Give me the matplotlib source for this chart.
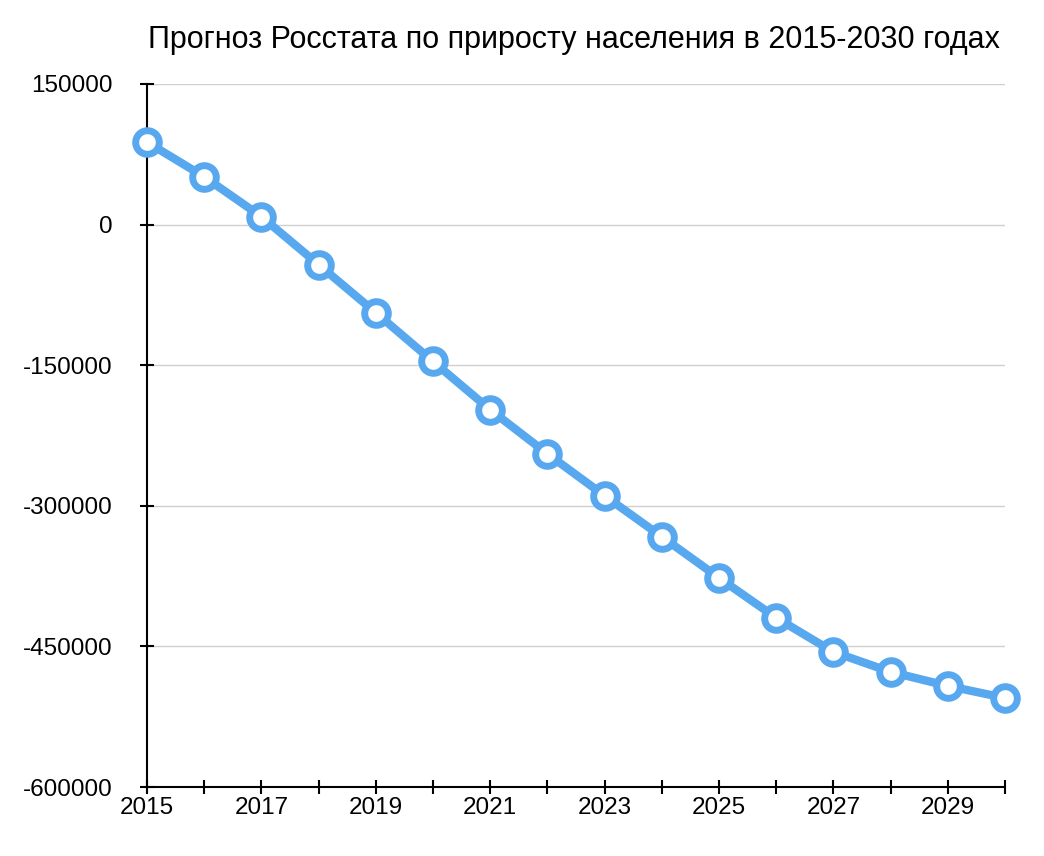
import matplotlib
matplotlib.use("Agg")
import matplotlib.pyplot as plt

plt.rcParams["font.family"] = "Liberation Sans"

years = list(range(2015, 2031))
growth = [88000, 51000, 8500, -42700, -94000, -146000, -197500, -244500,
          -289300, -333000, -376900, -419500, -455900, -477200, -492200, -505000]
year_labels = [str(y) if y % 2 == 1 else "" for y in years]
y_ticks = [150000, 0, -150000, -300000, -450000, -600000]

fig = plt.figure(figsize=(10.44, 8.56), dpi=100)
ax = fig.add_axes([147 / 1044, 69 / 856, 858 / 1044, 703 / 856])

ax.plot(years, growth, color="#58a8f0", linewidth=6, marker="o", markersize=17,
        markerfacecolor="white", markeredgecolor="#58a8f0", markeredgewidth=5,
        clip_on=False, zorder=3)

ax.set_xlim(2015, 2030)
ax.set_ylim(-600000, 150000)
ax.set_xticks(years)
ax.set_xticklabels(year_labels)
ax.set_yticks(y_ticks)
ax.set_yticklabels([str(v) for v in y_ticks])
ax.tick_params(axis="both", labelsize=17.5, width=1.5, length=10, direction="inout")
ax.tick_params(axis="y", pad=20)
ax.tick_params(axis="x", pad=2)
ax.grid(axis="y", color="#d0d0d0", linewidth=1)
ax.set_axisbelow(True)
for s in ("top", "right"):
    ax.spines[s].set_visible(False)
for s in ("left", "bottom"):
    ax.spines[s].set_linewidth(1.5)

fig.text(1000 / 1044, 1 - 40 / 856, "Прогноз Росстата по приросту населения в 2015-2030 годах",
         ha="right", va="center", fontsize=22)

fig.savefig("out.png", dpi=100)
